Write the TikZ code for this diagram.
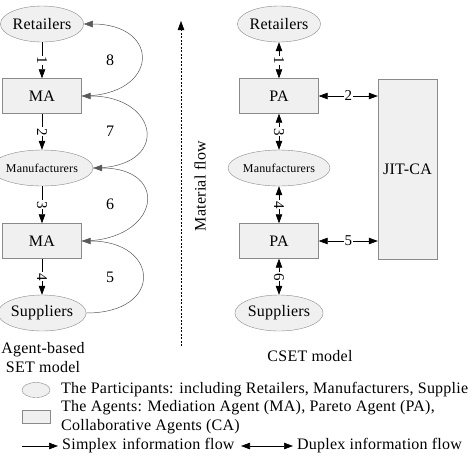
\documentclass[tikz,border=0pt]{standalone}
\usepackage{fontspec}
\setmainfont[LetterSpace=1.5]{Liberation Serif}
\usetikzlibrary{shapes.geometric,arrows.meta}
\definecolor{nodefill}{HTML}{F0F0F0}
\definecolor{nodeline}{HTML}{8A8A8A}
\begin{document}
\begin{tikzpicture}[x=1pt,y=-1pt,
  part/.style={ellipse,draw=nodeline,fill=nodefill,minimum width=79pt,minimum height=36pt,inner sep=0pt,font=\fontsize{16}{18}\selectfont},
  agent/.style={rectangle,draw=nodeline,fill=nodefill,minimum width=79pt,minimum height=35pt,inner sep=0pt,font=\fontsize{16}{18}\selectfont},
  tip/.tip={Triangle[length=9pt,width=6.5pt]},
  arr/.style={-tip,line width=0.6pt},
  darr/.style={tip-tip,line width=0.6pt},
  num/.style={font=\fontsize{15}{17}\selectfont,fill=white,inner sep=0.6pt},
  vnum/.style={num,rotate=-90},
  curve/.style={-tip,draw=gray!70!black,line width=0.5pt},
  lbl/.style={font=\fontsize{16}{19}\selectfont,inner sep=0pt}
]
\useasboundingbox (0,0) rectangle (474,459);

% Left: SET model
\node[part] (r1) at (42,24) {Retailers};
\node[agent] (m1) at (42,96) {MA};
\node[part,font=\fontsize{12}{14}\selectfont] (f1) at (42,168) {Manufacturers};
\node[agent] (m2) at (42,241) {MA};
\node[part] (s1) at (42,313) {Suppliers};

\draw[arr] (r1) -- node[vnum] {1} (m1);
\draw[arr] (m1) -- node[vnum] {2} (f1);
\draw[arr] (f1) -- node[vnum] {3} (m2);
\draw[arr] (m2) -- node[vnum] {4} (s1);

\draw[curve] (m1.east) .. controls +(78,0) and +(78,0) .. (r1.east);
\draw[curve] (f1.east) .. controls +(78,0) and +(78,0) .. (m1.east);
\draw[curve] (m2.east) .. controls +(78,0) and +(78,0) .. (f1.east);
\draw[curve] (s1.east) .. controls +(78,0) and +(78,0) .. (m2.east);
\node[lbl] (n8) at (110,60) {8};
\node[lbl] (n7) at (110,131) {7};
\node[lbl] (n6) at (110,204) {6};
\node[lbl] (n5) at (110,277) {5};

\node[lbl,align=center] (setlbl) at (43,358) {Agent-based\\SET model};

% Material flow
\coordinate (mfb) at (181,346);
\coordinate (mft) at (181,21);
\draw[-tip,line width=0.5pt,dash pattern=on 2pt off 1.5pt] (mfb) -- (mft);
\node[lbl,rotate=90] (mflbl) at (200,186) {Material flow};

% Right: CSET model
\node[part] (r2) at (279,24) {Retailers};
\node[agent] (p1) at (279,96) {PA};
\node[part,minimum width=77pt,font=\fontsize{12}{14}\selectfont] (f2) at (279,168) {Manufacturers};
\node[agent] (p2) at (279,241) {PA};
\node[part] (s2) at (279,313) {Suppliers};
\node[rectangle,draw=nodeline,fill=nodefill,minimum width=59pt,minimum height=180pt,inner sep=0pt,font=\fontsize{16}{18}\selectfont] (jit) at (407.5,169) {JIT-CA};

\draw[darr] (r2) -- node[vnum] {1} (p1);
\draw[darr] (p1) -- node[vnum] {3} (f2);
\draw[darr] (f2) -- node[vnum] {4} (p2);
\draw[darr] (p2) -- node[vnum] {6} (s2);
\draw[darr] (p1.east) -- node[num] {2} (p1.east -| jit.west);
\draw[darr] (p2.east) -- node[num] {5} (p2.east -| jit.west);

\node[lbl] (csetlbl) at (310,356) {CSET model};

% Legend
\node[ellipse,draw=nodeline,fill=nodefill,minimum width=28pt,minimum height=15pt,inner sep=0pt] (lgell) at (36,390) {};
\node[lbl,anchor=west] (lgt1) at (61,390) {The Participants: including Retailers, Manufacturers, Supplie};
\node[rectangle,draw=nodeline,fill=nodefill,minimum width=28pt,minimum height=13pt,inner sep=0pt] (lgrect) at (36,417) {};
\node[lbl,anchor=west] (lgt2) at (61,408) {The Agents: Mediation Agent (MA), Pareto Agent (PA),};
\node[lbl,anchor=west] (lgt3) at (61,427) {Collaborative Agents (CA)};
\coordinate (sa) at (22,446);
\coordinate (sb) at (58,446);
\draw[arr] (sa) -- (sb);
\node[lbl,anchor=west] (lgt4) at (62,446) {Simplex\,\,information flow};
\coordinate (da) at (241,446);
\coordinate (db) at (293,446);
\draw[darr] (da) -- (db);
\node[lbl,anchor=west] (lgt5) at (297,446) {Duplex information flow};
\end{tikzpicture}
\end{document}
